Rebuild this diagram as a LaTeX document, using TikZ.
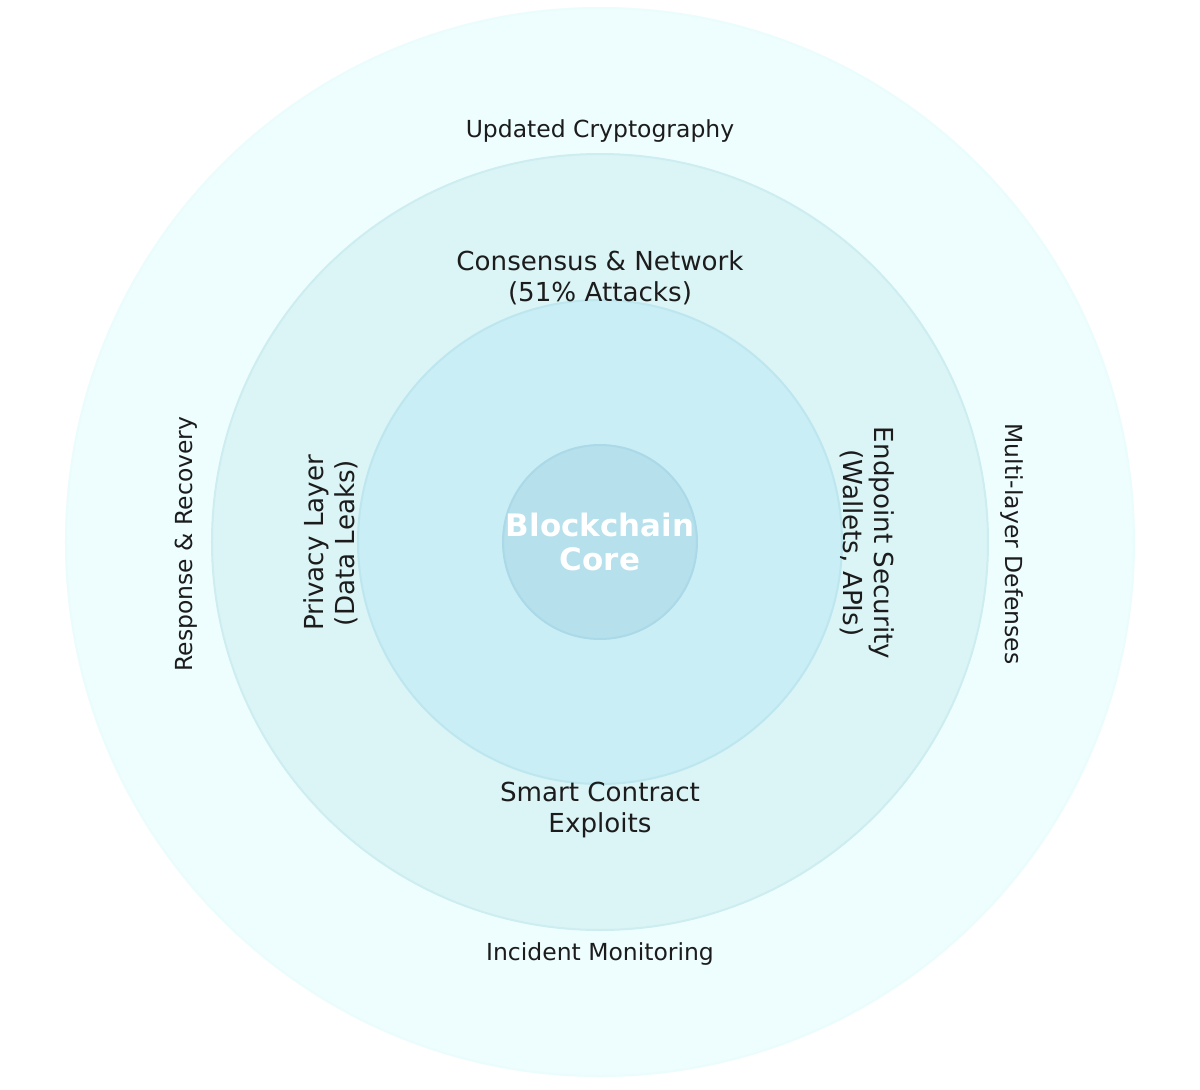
\documentclass[tikz,border=0pt]{standalone}
\usepackage{fontspec}
\setmainfont{DejaVu Sans}

\definecolor{ringA}{HTML}{EEFEFE}
\definecolor{ringB}{HTML}{DBF5F6}
\definecolor{ringC}{HTML}{C9EEF5}
\definecolor{ringD}{HTML}{B5E0EC}
\definecolor{edgeA}{HTML}{EAFCFC}
\definecolor{edgeB}{HTML}{CDEDF0}
\definecolor{edgeC}{HTML}{BDE6EF}
\definecolor{edgeD}{HTML}{ABD9E7}
\definecolor{labeltext}{HTML}{1C1C1C}

\begin{document}
\begin{tikzpicture}[x=0.25mm,y=0.25mm,
  ring/.style={line width=0.5mm},
  outerlabel/.style={text=labeltext,font=\fontsize{16.7}{20}\selectfont,align=center,inner sep=0pt},
  layerlabel/.style={text=labeltext,font=\fontsize{18.6}{22}\selectfont,align=center,inner sep=0pt},
  corelabel/.style={text=white,font=\bfseries\fontsize{22}{24.5}\selectfont,align=center,inner sep=0pt}]

% Cadre
\useasboundingbox[fill=white] (-600,-547) rectangle (600,542);

% Anneaux
\filldraw[ring,fill=ringA,draw=edgeA] (0,0) circle (534);
\filldraw[ring,fill=ringB,draw=edgeB] (0,0) circle (388);
\filldraw[ring,fill=ringC,draw=edgeC] (0,0) circle (242);
\filldraw[ring,fill=ringD,draw=edgeD] (0,0) circle (97);

% Coeur
\node[corelabel] (core) at (0,0) {Blockchain\\Core};

% Couche du milieu
\node[layerlabel] (consensus) at (0,264) {Consensus \& Network\\(51\% Attacks)};
\node[layerlabel] (contract) at (0,-268) {Smart Contract\\Exploits};
\node[layerlabel,rotate=90] (privacy) at (-269,-1) {Privacy Layer\\(Data Leaks)};
\node[layerlabel,rotate=-90] (endpoint) at (267,-1) {Endpoint Security\\(Wallets, APIs)};

% Anneau externe
\node[outerlabel] (crypto) at (0,411) {Updated Cryptography};
\node[outerlabel] (monitor) at (0,-412) {Incident Monitoring};
\node[outerlabel,rotate=90] (recovery) at (-414,-2) {Response \& Recovery};
\node[outerlabel,rotate=-90] (defense) at (412,-2) {Multi-layer Defenses};

\end{tikzpicture}
\end{document}
